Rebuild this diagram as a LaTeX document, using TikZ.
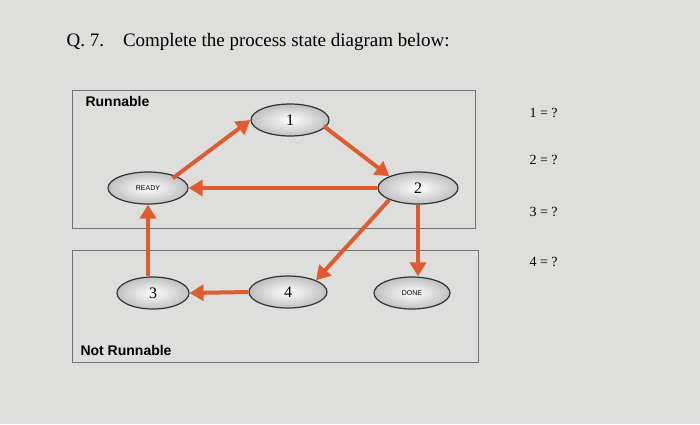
\documentclass[tikz,border=0pt]{standalone}
\usepackage{fontspec}
\setmainfont{Liberation Serif}
\setsansfont{Liberation Sans}
\usetikzlibrary{arrows.meta,shapes.geometric}
\definecolor{paper}{RGB}{222,222,220}
\definecolor{arr}{RGB}{222,92,48}
\tikzset{
  st/.style={ellipse,draw=black!80,line width=1.2pt,inner color=white,outer color=black!25,minimum width=#1,minimum height=32pt,inner sep=0pt,font=\fontsize{16}{16}\selectfont},
  st/.default=78pt,
  small/.style={font=\sffamily\fontsize{7}{7}\selectfont},
  region/.style={draw=black!55,line width=1pt},
  ar/.style={draw=arr,line width=4pt,-{Triangle[length=14pt,width=16pt]}},
  lab/.style={font=\sffamily\bfseries\fontsize{14}{14}\selectfont,anchor=west},
  qa/.style={font=\fontsize{14}{14}\selectfont,anchor=west}
}
\begin{document}
\begin{tikzpicture}[x=1pt,y=-1pt]
\fill[paper] (0,0) rectangle (700,424);
\useasboundingbox (0,0) rectangle (700,424);
\node[anchor=west,font=\fontsize{19}{19}\selectfont] (title) at (63,42) {Q. 7.\quad Complete the process state diagram below:};
\draw[region] (72,90) rectangle (475,228);
\draw[region] (72,250) rectangle (478,362);
\node[lab] (run) at (82,101) {Runnable};
\node[lab] (nrun) at (77,350) {Not Runnable};
\node[st] (n1) at (290,120) {1};
\node[st=80pt,small] (ready) at (148,188) {READY};
\node[st=80pt] (n2) at (418,188) {2};
\node[st=72pt] (n3) at (153,293) {3};
\node[st] (n4) at (288,292) {4};
\node[st=76pt,small] (done) at (412,293) {DONE};
\draw[ar] (ready.north east) ++(-4,2) -- (n1.west);
\draw[ar] (n1.east) ++(-6,6) -- (n2.north west);
\draw[ar] (n2.west) -- (ready.east);
\draw[ar] (n2.south west) -- (n4.north east);
\draw[ar] (n2.south) -- (n2.south |- done.north);
\draw[ar] (n4.west) -- (n3.east);
\draw[ar] (ready.south |- n3.north) -- (ready.south);
\node[qa] (q1) at (526,113) {1 = ?};
\node[qa] (q2) at (526,160) {2 = ?};
\node[qa] (q3) at (526,212) {3 = ?};
\node[qa] (q4) at (526,262) {4 = ?};
\end{tikzpicture}
\end{document}
